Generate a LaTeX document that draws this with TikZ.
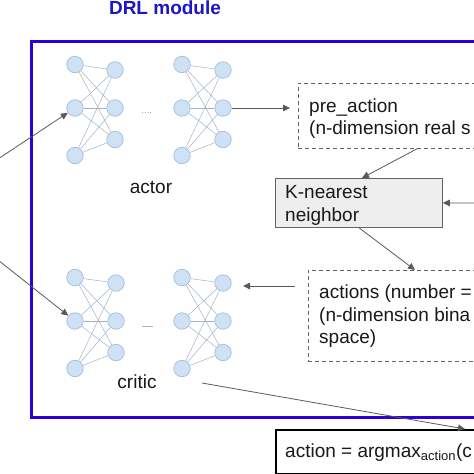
\documentclass[tikz,border=0pt]{standalone}
\usepackage{fontspec}
\setmainfont{Liberation Sans}
\usetikzlibrary{arrows.meta}
\definecolor{frameblue}{RGB}{45,0,215}
\definecolor{titleblue}{RGB}{28,22,200}
\definecolor{nodefill}{RGB}{207,226,243}
\definecolor{nodeedge}{RGB}{160,190,225}
\definecolor{synapse}{RGB}{165,178,198}
\definecolor{arrowgray}{RGB}{90,90,90}
\definecolor{boxgray}{RGB}{100,100,100}
\definecolor{kfill}{RGB}{238,238,238}
\definecolor{textdark}{RGB}{25,25,25}
\newcommand\nnet[4]{% prefix, x of layer 1, x of layer 2, middle y
  \foreach \i/\dy in {1/-43.5,2/0,3/47.5}
    \node[neuron] (#1a\i) at ({#2},{#4+(\dy)}) {};
  \foreach \i/\dy in {1/-38,2/0,3/31.5}
    \node[neuron] (#1b\i) at ({#3},{#4+(\dy)}) {};
  \foreach \i in {1,2,3} {\foreach \j in {1,2,3} {\draw[syn] (#1a\i) -- (#1b\j);}}
}
\begin{document}
\begin{tikzpicture}[x=1pt,y=-1pt,
  neuron/.style={circle,draw=nodeedge,fill=nodefill,line width=0.7pt,minimum size=16.5pt,inner sep=0pt},
  syn/.style={draw=synapse,line width=0.5pt},
  arr/.style={draw=arrowgray,line width=0.8pt,-{Triangle[length=7pt,width=6.5pt]}},
  txt/.style={font=\fontsize{19}{22.5}\selectfont,text=textdark,inner sep=0pt,anchor=base west},
  dbox/.style={draw=boxgray,dash pattern=on 4pt off 3pt,line width=0.8pt,inner sep=0pt,anchor=north west},
]
\useasboundingbox (0,0) rectangle (474,474);
\clip (0,0) rectangle (474,474);
\fill[white] (0,0) rectangle (474,474);

% title and module frame
\node[font=\bfseries\fontsize{19}{22}\selectfont,text=titleblue,anchor=base,inner sep=0pt] (title) at (165,14) {DRL module};
\node[draw=frameblue,line width=3.5pt,minimum width=480pt,minimum height=376pt,anchor=north west,inner sep=0pt] (frame) at (29.5,39.5) {};

% networks
\nnet{aa}{75}{115}{108}
\nnet{ab}{182}{223}{108}
\nnet{ca}{75}{116}{321}
\nnet{cb}{182}{223}{321}
\draw[gray!70,dotted,line width=0.8pt] (142,112.5) -- (153,112.5);
\draw[gray!60,line width=0.8pt] (142,326) -- (153,326);

\node[txt,anchor=base] (actor) at (151,193) {actor};
\node[txt,anchor=base] (critic) at (137,388) {critic};

% boxes
\node[dbox,minimum width=200pt,minimum height=65pt] (pre) at (298,83) {};
\node[txt] (pret1) at (309,112) {pre\_action};
\node[txt] (pret2) at (309,134) {(n-dimension real s};

\node[draw=boxgray,fill=kfill,line width=0.8pt,minimum width=167pt,minimum height=49pt,anchor=north west,inner sep=0pt] (knn) at (275,178) {};
\node[txt] (knnt1) at (285,198.5) {K-nearest};
\node[txt] (knnt2) at (285,221.5) {neighbor};

\node[dbox,minimum width=200pt,minimum height=91pt] (acts) at (308,270) {};
\node[txt] (actst1) at (319,298.5) {actions (number =};
\node[txt] (actst2) at (319,321) {(n-dimension bina};
\node[txt] (actst3) at (319,343.5) {space)};

\node[draw=black,line width=1.8pt,minimum width=250pt,minimum height=44pt,anchor=north west,inner sep=0pt] (act) at (275,429) {};
\node[txt] (actt) at (285,457) {action = argmax\textsubscript{\fontsize{13}{13}\selectfont action}(c};

% connectors
\coordinate (lin1) at (-2,159);
\coordinate (lin2) at (-2,260);
\coordinate (pin) at (290,108);
\coordinate (rin) at (480,203);
\coordinate (acl) at (295,286);
\coordinate (cin) at (243,286);
\coordinate (cout) at (202,383);
\draw[arr] (lin1) -- (aaa2);
\draw[arr] (lin2) -- (caa2);
\draw[arr] (abb2) -- (pin);
\draw[arr] ([xshift=119pt]pre.south west) -- ([xshift=87pt]knn.north west);
\draw[arr] (rin) -- (knn.east);
\draw[arr] ([xshift=84pt]knn.south west) -- ([xshift=107pt]acts.north west);
\draw[arr] (acl) -- (cin);
\draw[arr] (cout) -- ([xshift=190pt]act.north west);
\end{tikzpicture}
\end{document}
